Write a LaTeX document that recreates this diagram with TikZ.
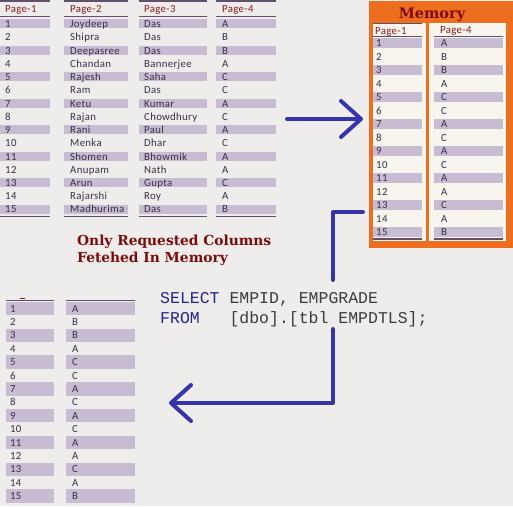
\documentclass[tikz,border=0pt]{standalone}
\usepackage{fontspec}
\newfontfamily\tabfont[LetterSpace=3]{Carlito}
\newfontfamily\serifbold{DejaVu Serif}
\newfontfamily\codefont{Liberation Mono}
\usetikzlibrary{arrows.meta}
\definecolor{bg}{RGB}{238,237,236}
\definecolor{bar}{RGB}{200,188,210}
\definecolor{txt}{RGB}{58,46,70}
\definecolor{hdr}{RGB}{140,24,24}
\definecolor{rulec}{RGB}{96,80,106}
\definecolor{orng}{RGB}{236,110,30}
\definecolor{panel}{RGB}{248,244,238}
\definecolor{arrowblue}{RGB}{52,52,172}
\definecolor{sqlblue}{RGB}{36,36,150}
\definecolor{sqlgray}{RGB}{60,60,60}
\definecolor{darkred}{RGB}{128,10,10}
\tikzset{
  cell/.style={anchor=base west, inner sep=0pt, font=\tabfont\fontsize{10.8}{12}\selectfont, text=txt},
  hcell/.style={cell, text=hdr},
  rulel/.style={draw=rulec, line width=1.2pt},
  flow/.style={draw=arrowblue, line width=4pt, line cap=round, line join=round},
  tipend/.style={-{Straight Barb[length=20pt,width=36pt,round]}},
  redlabel/.style={anchor=base west, inner sep=0pt, font=\serifbold\bfseries\fontsize{13.8}{16}\selectfont, text=darkred},
  sqltext/.style={anchor=base west, inner sep=0pt, font=\codefont\fontsize{16.5}{20}\selectfont, text=sqlgray},
}
\begin{document}
\begin{tikzpicture}[x=1pt,y=-1pt]
\useasboundingbox (0,0) rectangle (513,506);
\fill[bg] (0,0) rectangle (513,506);

% ---------- top table ----------
\foreach \xl/\xr in {0/50, 64/128, 139/207, 216/276} {
  \draw[rulel] (\xl,1) -- (\xr,1);
  \draw[rulel] (\xl,16.5) -- (\xr,16.5);
  \draw[rulel] (\xl,216.7) -- (\xr,216.7);
}
\foreach \i/\na/\nb/\gr in {1/Joydeep/Das/A, 2/Shipra/Das/B, 3/Deepasree/Das/B, 4/Chandan/Bannerjee/A,
  5/Rajesh/Saha/C, 6/Ram/Das/C, 7/Ketu/Kumar/A, 8/Rajan/Chowdhury/C, 9/Rani/Paul/A, 10/Menka/Dhar/C,
  11/Shomen/Bhowmik/A, 12/Anupam/Nath/A, 13/Arun/Gupta/C, 14/Rajarshi/Roy/A, 15/Madhurima/Das/B} {
  \pgfmathsetmacro\yc{24+(\i-1)*13.24}
  \ifodd\i
    \foreach \xl/\xr in {0/50, 64/128, 139/207, 216/276} {\fill[bar] (\xl,\yc-4.8) rectangle (\xr,\yc+4.4);}
  \fi
  \node[cell] (ta\i) at (5,\yc+3.6) {\i};
  \node[cell] (tb\i) at (70,\yc+3.6) {\na};
  \node[cell] (tc\i) at (144,\yc+3.6) {\nb};
  \node[cell] (td\i) at (222,\yc+3.6) {\gr};
}
\node[hcell] (ha) at (5,12.5) {Page-1};
\node[hcell] (hb) at (70,12.5) {Page-2};
\node[hcell] (hc) at (144,12.5) {Page-3};
\node[hcell] (hd) at (222,12.5) {Page-4};

% ---------- memory ----------
\node[fill=orng, minimum width=144pt, minimum height=247pt, anchor=north west, inner sep=0pt] (mem) at (369,1) {};
\node[fill=panel, minimum width=53pt, minimum height=217.5pt, anchor=north west, inner sep=0pt] (pa) at (373,23) {};
\node[fill=panel, minimum width=77pt, minimum height=217.5pt, anchor=north west, inner sep=0pt] (pd) at (429,23) {};
\node[anchor=base, inner sep=0pt, font=\serifbold\bfseries\fontsize{14.5}{16}\selectfont, text=darkred] (memt) at (432,18) {Memory};
\draw[rulel] (373,23.5) -- (422,23.5);
\draw[rulel] (373,36.5) -- (422,36.5);
\draw[rulel] (434,36.5) -- (503,36.5);
\draw[rulel] (373,239) -- (422,239);
\draw[rulel] (434,239) -- (503,239);
\node[hcell] (mha) at (375,34) {Page-1};
\node[hcell] (mhd) at (440,33) {Page-4};
\foreach \i/\gr in {1/A,2/B,3/B,4/A,5/C,6/C,7/A,8/C,9/A,10/C,11/A,12/A,13/C,14/A,15/B} {
  \pgfmathsetmacro\yc{43+(\i-1)*13.5}
  \ifodd\i
    \fill[bar] (373,\yc-4.8) rectangle (422,\yc+4.6);
    \fill[bar] (434,\yc-4.8) rectangle (503,\yc+4.6);
  \fi
  \node[cell] (ma\i) at (376,\yc+3.6) {\i};
  \node[cell] (md\i) at (441,\yc+3.6) {\gr};
}

% ---------- label ----------
\node[redlabel] (lab1) at (77,245) {Only Requested Columns};
\node[redlabel] (lab2) at (77,262.5) {Fetehed In Memory};

% ---------- SQL ----------
\node[sqltext] (sql1) at (160,303) {\textcolor{sqlblue}{SELECT} EMPID, EMPGRADE};
\node[sqltext] (sql2) at (160,323) {\textcolor{sqlblue}{FROM}\ \ \ [dbo].[tbl EMPDTLS];};

% ---------- bottom table ----------
\draw[hdr, line width=1pt] (20,298.3) -- (25,298.3);
\draw[rulel] (6,300.7) -- (54,300.7);
\draw[rulel] (66,300.7) -- (135,300.7);
\draw[rulel] (66,502) -- (135,502);
\foreach \i/\gr in {1/A,2/B,3/B,4/A,5/C,6/C,7/A,8/C,9/A,10/C,11/A,12/A,13/C,14/A,15/B} {
  \pgfmathsetmacro\yc{308.5+(\i-1)*13.4}
  \ifodd\i
    \fill[bar] (6,\yc-6.7) rectangle (54,\yc+6.7);
    \fill[bar] (66,\yc-6.7) rectangle (135,\yc+6.7);
  \fi
  \node[cell] (ba\i) at (10,\yc+3.6) {\i};
  \node[cell] (bd\i) at (72,\yc+3.6) {\gr};
}

% ---------- arrows ----------
\coordinate (a1s) at (287,119);
\coordinate (a1e) at (363,119);
\draw[flow, tipend] (a1s) -- (a1e);
\coordinate (a2s) at (363,212);
\coordinate (a2b) at (333,280);
\draw[flow] (a2s) -| (a2b);
\coordinate (a2c) at (333,329);
\coordinate (a2e) at (169,403);
\draw[flow, tipend] (a2c) |- (a2e);
\end{tikzpicture}
\end{document}
